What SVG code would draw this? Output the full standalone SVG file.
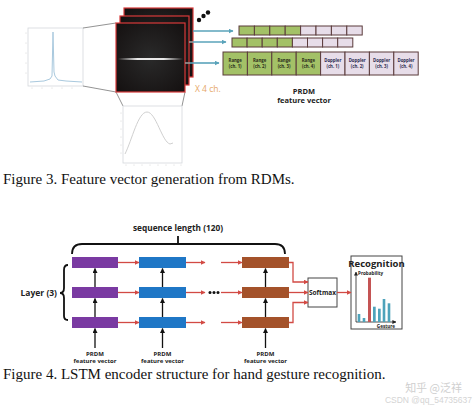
<svg xmlns="http://www.w3.org/2000/svg" width="474" height="408" viewBox="0 0 474 408">
<defs>
<marker id="mt" viewBox="0 0 10 10" refX="9" refY="5" markerWidth="5" markerHeight="5" orient="auto" markerUnits="userSpaceOnUse"><path d="M0,0 L10,5 L0,10 z" fill="#5aa3ba"/></marker>
<marker id="mr" viewBox="0 0 10 10" refX="9" refY="5" markerWidth="5" markerHeight="5" orient="auto" markerUnits="userSpaceOnUse"><path d="M0,0 L10,5 L0,10 z" fill="#d24a44"/></marker>
<marker id="mk" viewBox="0 0 10 10" refX="9" refY="5" markerWidth="5" markerHeight="5" orient="auto" markerUnits="userSpaceOnUse"><path d="M0,0 L10,5 L0,10 z" fill="#111"/></marker>
<marker id="mg" viewBox="0 0 10 10" refX="9" refY="5" markerWidth="4" markerHeight="4" orient="auto" markerUnits="userSpaceOnUse"><path d="M0,0 L10,5 L0,10 z" fill="#222"/></marker>
<linearGradient id="glow" x1="0" y1="0" x2="1" y2="0">
<stop offset="0" stop-color="#fff" stop-opacity="0"/><stop offset="0.3" stop-color="#fff" stop-opacity="0.9"/><stop offset="0.7" stop-color="#fff" stop-opacity="0.9"/><stop offset="1" stop-color="#fff" stop-opacity="0"/>
</linearGradient>
<radialGradient id="dark" cx="0.5" cy="0.5" r="0.7"><stop offset="0" stop-color="#2a2a2a"/><stop offset="1" stop-color="#141010"/></radialGradient>
</defs>
<style>
.cap{font-family:"Liberation Serif","Times New Roman",serif;font-size:15px;fill:#111}
.lbl{font-family:"Open Sans","Noto Sans",sans-serif;font-weight:700;fill:#222}
.cell{font-family:"Open Sans","Noto Sans",sans-serif;font-weight:700;font-size:4.3px;text-anchor:middle}
.g{fill:#a3c167;stroke:#5a3b3b;stroke-width:1}
.p{fill:#e7dde9;stroke:#5a3b3b;stroke-width:1}
.frame{fill:url(#dark);stroke:#d83a3a;stroke-width:1.2}
.ax{fill:none;stroke:#d4d8dc;stroke-width:0.8}
.red{fill:none;stroke:#d24a44;stroke-width:1.3}
.blk{fill:none;stroke:#111;stroke-width:1.3}
.teal{fill:none;stroke:#5aa3ba;stroke-width:1.6}
</style>

<rect width="474" height="408" fill="#fff"/>

<!-- Figure 3 -->
<g id="range-plot">
<rect class="ax" x="28" y="28" width="55" height="58"/>
<path d="M30,82 L44,81 L50,79 L52,76 L53,32 L54,72 L55,76 L58,80 L66,81 L82,82" fill="none" stroke="#a9c9de" stroke-width="1"/>
<g fill="#ccc"><circle cx="26" cy="33" r="0.5"/><circle cx="26" cy="43" r="0.5"/><circle cx="26" cy="53" r="0.5"/><circle cx="26" cy="63" r="0.5"/><circle cx="26" cy="73" r="0.5"/><circle cx="32" cy="88" r="0.5"/><circle cx="42" cy="88" r="0.5"/><circle cx="52" cy="88" r="0.5"/><circle cx="62" cy="88" r="0.5"/><circle cx="72" cy="88" r="0.5"/></g>
</g>
<g id="zoom-lines" fill="none" stroke="#777" stroke-width="0.8">
<line x1="83" y1="28" x2="116" y2="23"/>
<line x1="83" y1="86" x2="116" y2="92"/>
<line x1="116" y1="92" x2="123" y2="106"/>
<line x1="185" y1="92" x2="182" y2="106"/>
</g>
<g id="rdm-stack">
<rect class="frame" x="124" y="8" width="69" height="69"/>
<rect class="frame" x="120" y="16" width="69" height="69"/>
<rect class="frame" x="116" y="23" width="69" height="69"/>
<rect x="118" y="58" width="65" height="2" fill="url(#glow)"/>
<line x1="185" y1="63" x2="190" y2="63" stroke="#999" stroke-width="1.6"/>
<line x1="189" y1="42" x2="193" y2="42" stroke="#999" stroke-width="1.6"/>
<circle cx="199" cy="20" r="2.2" fill="#111"/><circle cx="203.5" cy="16" r="2.2" fill="#111"/><circle cx="208" cy="12.5" r="2.2" fill="#111"/>
<text x="195" y="92" font-family="'Open Sans','Noto Sans',sans-serif" font-size="8.5" fill="#e6a868">X 4 ch.</text>
</g>
<g id="doppler-plot">
<rect class="ax" x="123" y="106" width="59" height="57"/>
<path d="M125,154 C132,140 138,112 147,112 C156,112 162,142 170,144 L173,143" fill="none" stroke="#d0d0d0" stroke-width="1"/>
<g fill="#ccc"><circle cx="121" cy="113" r="0.5"/><circle cx="121" cy="121" r="0.5"/><circle cx="121" cy="129" r="0.5"/><circle cx="121" cy="137" r="0.5"/><circle cx="121" cy="145" r="0.5"/><circle cx="121" cy="153" r="0.5"/><circle cx="126" cy="165" r="0.5"/><circle cx="134" cy="165" r="0.5"/><circle cx="142" cy="165" r="0.5"/><circle cx="150" cy="165" r="0.5"/><circle cx="158" cy="165" r="0.5"/><circle cx="166" cy="165" r="0.5"/><circle cx="174" cy="165" r="0.5"/><circle cx="181" cy="165" r="0.5"/></g>
</g>
<g id="stack-arrows">
<line class="teal" x1="193" y1="31" x2="233" y2="31" marker-end="url(#mt)"/>
<line class="teal" x1="193" y1="42" x2="226" y2="42" marker-end="url(#mt)"/>
<line class="teal" x1="190" y1="63" x2="219" y2="63" marker-end="url(#mt)"/>
</g>
<g id="vector-row1">
<rect class="g" x="239" y="26" width="15.4" height="9"/><rect class="g" x="254.4" y="26" width="15.4" height="9"/><rect class="g" x="269.8" y="26" width="15.4" height="9"/><rect class="g" x="285.2" y="26" width="15.4" height="9"/>
<rect class="p" x="300.6" y="26" width="15.4" height="9"/><rect class="p" x="316" y="26" width="15.4" height="9"/><rect class="p" x="331.4" y="26" width="15.4" height="9"/><rect class="p" x="346.8" y="26" width="15.4" height="9"/>
</g>
<g id="vector-row2">
<rect class="g" x="232" y="38" width="15.1" height="9"/><rect class="g" x="247.1" y="38" width="15.1" height="9"/><rect class="g" x="262.2" y="38" width="15.1" height="9"/><rect class="g" x="277.3" y="38" width="15.1" height="9"/>
<rect class="p" x="292.4" y="38" width="15.1" height="9"/><rect class="p" x="307.5" y="38" width="15.1" height="9"/><rect class="p" x="322.6" y="38" width="15.1" height="9"/><rect class="p" x="337.7" y="38" width="15.1" height="9"/>
</g>
<g id="vector-row3">
<rect class="g" x="223" y="52" width="24.4" height="23"/><rect class="g" x="247.4" y="52" width="24.4" height="23"/><rect class="g" x="271.8" y="52" width="24.4" height="23"/><rect class="g" x="296.2" y="52" width="24.4" height="23"/>
<rect class="p" x="320.6" y="52" width="24.4" height="23"/><rect class="p" x="345" y="52" width="24.4" height="23"/><rect class="p" x="369.4" y="52" width="24.4" height="23"/><rect class="p" x="393.8" y="52" width="24.4" height="23"/>
<g class="cell" fill="#2a2a1a">
<text x="235.2" y="61.5">Range</text><text x="235.2" y="68">(ch. 1)</text>
<text x="259.6" y="61.5">Range</text><text x="259.6" y="68">(ch. 2)</text>
<text x="284" y="61.5">Range</text><text x="284" y="68">(ch. 3)</text>
<text x="308.4" y="61.5">Range</text><text x="308.4" y="68">(ch. 4)</text>
</g>
<g class="cell" fill="#2a2a50">
<text x="332.8" y="61.5">Doppler</text><text x="332.8" y="68">(ch. 1)</text>
<text x="357.2" y="61.5">Doppler</text><text x="357.2" y="68">(ch. 2)</text>
<text x="381.6" y="61.5">Doppler</text><text x="381.6" y="68">(ch. 3)</text>
<text x="406" y="61.5">Doppler</text><text x="406" y="68">(ch. 4)</text>
</g>
<text class="lbl" x="304" y="94" font-size="7.5" text-anchor="middle">PRDM</text>
<text class="lbl" x="304" y="103" font-size="7.5" text-anchor="middle">feature vector</text>
</g>
<text class="cap" x="3" y="184">Figure 3. Feature vector generation from RDMs.</text>

<!-- Figure 4 -->
<g id="braces" fill="none" stroke="#111" stroke-width="1.8">
<path d="M72,254 Q72,244 82,244 L275,244 Q285,244 285,254"/>
<line x1="178" y1="244" x2="178" y2="236"/>
<path d="M68,265 Q64,265 64,270 L64,288 Q64,293 60,293 Q64,293 64,298 L64,316 Q64,320 68,320"/>
</g>
<text class="lbl" x="178" y="231" font-size="8.3" text-anchor="middle">sequence length (120)</text>
<text class="lbl" x="57" y="296" font-size="8.5" text-anchor="end">Layer (3)</text>

<g id="col1" fill="#7a3aa2">
<rect x="72" y="257" width="46" height="11"/><rect x="72" y="287" width="46" height="11"/><rect x="72" y="317" width="46" height="11"/>
</g>
<g id="col2" fill="#1f77c6">
<rect x="139" y="257" width="47" height="11"/><rect x="139" y="287" width="47" height="11"/><rect x="139" y="317" width="47" height="11"/>
</g>
<g id="col3" fill="#a4522a">
<rect x="242" y="257" width="47" height="11"/><rect x="242" y="287" width="47" height="11"/><rect x="242" y="317" width="47" height="11"/>
</g>
<g id="softmax">
<rect x="308" y="278" width="29" height="29" fill="#fff" stroke="#444" stroke-width="1"/>
<text class="lbl" x="322.5" y="295" font-size="6.5" text-anchor="middle" font-weight="600">Softmax</text>
</g>
<g id="recognition">
<rect x="351" y="256" width="51" height="73" fill="#fff" stroke="#444" stroke-width="1"/>
<text class="lbl" x="376.5" y="266.5" font-size="9.5" text-anchor="middle">Recognition</text>
<line x1="356" y1="322" x2="356" y2="272" stroke="#222" stroke-width="0.8" marker-end="url(#mg)"/>
<line x1="356" y1="322" x2="396" y2="322" stroke="#222" stroke-width="0.8" marker-end="url(#mg)"/>
<text class="lbl" x="358" y="274.5" font-size="4.6">Probability</text>
<text class="lbl" x="395" y="328" font-size="4.6" text-anchor="end">Gesture</text>
<g fill="#4ea3bb">
<rect x="357.7" y="314" width="2.6" height="8"/><rect x="362.7" y="318" width="2.6" height="4"/>
<rect x="373" y="306.7" width="2.7" height="15.3"/><rect x="378" y="308.7" width="2.7" height="13.3"/>
<rect x="382.7" y="299" width="2.6" height="23"/><rect x="387.7" y="303.3" width="2.6" height="18.7"/>
</g>
<rect x="368" y="277.7" width="3" height="44.3" fill="#c45454"/>
</g>
<g id="inputs">
<text class="lbl" x="95" y="356" font-size="6" text-anchor="middle">PRDM</text>
<text class="lbl" x="95" y="363" font-size="6" text-anchor="middle" font-weight="600">feature vector</text>
<text class="lbl" x="162.5" y="356" font-size="6" text-anchor="middle">PRDM</text>
<text class="lbl" x="162.5" y="363" font-size="6" text-anchor="middle" font-weight="600">feature vector</text>
<text class="lbl" x="265.5" y="356" font-size="6" text-anchor="middle">PRDM</text>
<text class="lbl" x="265.5" y="363" font-size="6" text-anchor="middle" font-weight="600">feature vector</text>
</g>

<g id="connectors">
<g class="blk" marker-end="url(#mk)">
<line x1="95" y1="348" x2="95" y2="328.5"/><line x1="95" y1="317" x2="95" y2="298.5"/><line x1="95" y1="287" x2="95" y2="268.5"/>
<line x1="162.5" y1="348" x2="162.5" y2="328.5"/><line x1="162.5" y1="317" x2="162.5" y2="298.5"/><line x1="162.5" y1="287" x2="162.5" y2="268.5"/>
<line x1="265.5" y1="348" x2="265.5" y2="328.5"/><line x1="265.5" y1="317" x2="265.5" y2="298.5"/><line x1="265.5" y1="287" x2="265.5" y2="268.5"/>
</g>
<g class="red" marker-end="url(#mr)">
<line x1="118" y1="262.5" x2="139" y2="262.5"/><line x1="118" y1="292.5" x2="139" y2="292.5"/><line x1="118" y1="322.5" x2="139" y2="322.5"/>
<line x1="186" y1="262.5" x2="205" y2="262.5"/><line x1="186" y1="292.5" x2="205" y2="292.5"/><line x1="186" y1="322.5" x2="205" y2="322.5"/>
<line x1="221" y1="262.5" x2="242" y2="262.5"/><line x1="221" y1="292.5" x2="242" y2="292.5"/><line x1="221" y1="322.5" x2="242" y2="322.5"/>
<polyline points="289,262.5 293,262.5 293,282 308,282"/>
<line x1="289" y1="292.5" x2="308" y2="292.5"/>
<polyline points="289,322.5 293,322.5 293,302.5 308,302.5"/>
<line x1="337" y1="292.5" x2="351" y2="292.5"/>
</g>
<g fill="#111"><circle cx="210" cy="292.5" r="1.5"/><circle cx="214" cy="292.5" r="1.5"/><circle cx="218" cy="292.5" r="1.5"/></g>
</g>
<text class="cap" x="3" y="379">Figure 4. LSTM encoder structure for hand gesture recognition.</text>

<text x="462" y="392" font-family="'Noto Sans CJK SC',sans-serif" font-size="11" fill="#cfcfcf" text-anchor="end">知乎 @泛祥</text>
<text x="472" y="403" font-family="'Liberation Sans',sans-serif" font-size="8.5" fill="#d4d4d4" text-anchor="end">CSDN @qq_54735637</text>
</svg>
